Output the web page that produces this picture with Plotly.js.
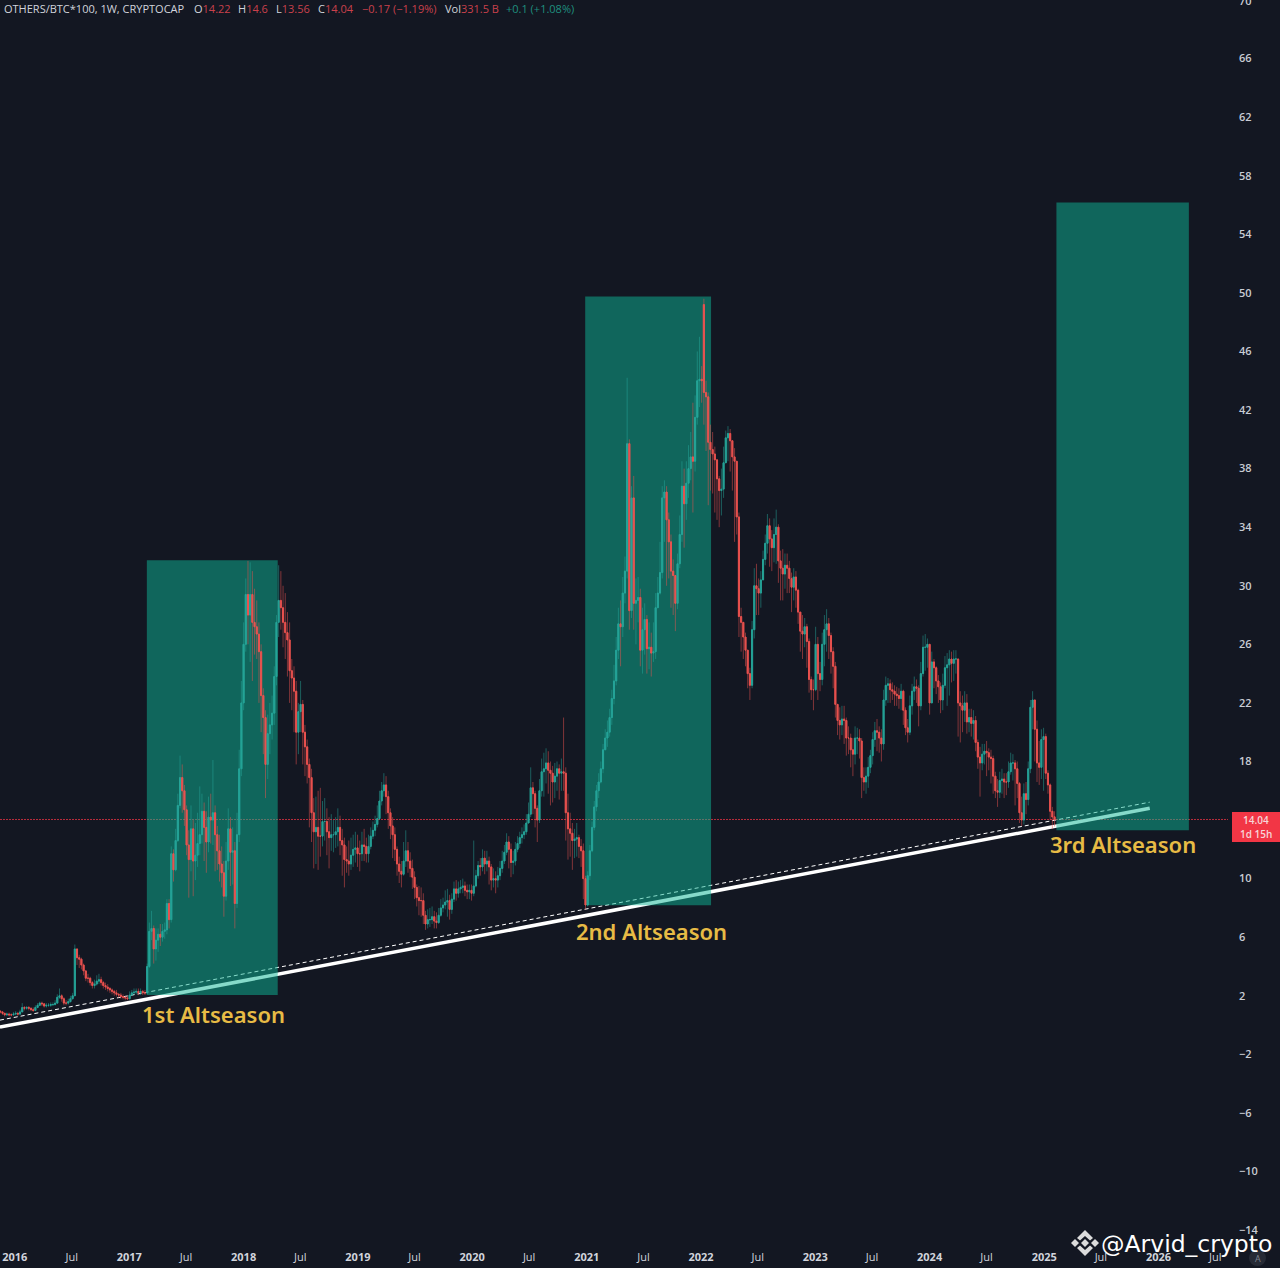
<!DOCTYPE html>
<html><head><meta charset="utf-8">
<script src="https://cdn.plot.ly/plotly-3.0.1.min.js"></script>
<style>html,body{margin:0;padding:0;background:#131722}#c{width:1280px;height:1268px}</style>
</head><body><div id="c"></div>
<script>
const firstWeek = '2015-11-16';
const closes = [
.9,.8,.7,.75,.7,.7,.75,.8,.75,.9,
1.2,1.15,1.2,1.15,1.05,1,1.2,1.35,1.5,1.45,
1.3,1.35,1.35,1.4,1.4,1.5,1.9,2,1.8,1.5,
1.5,1.6,1.8,2,5.2,4.6,4.5,4.1,3.7,3.2,
3.2,2.9,2.7,2.8,3,3.1,2.9,2.7,2.6,2.5,
2.4,2.3,2.2,2.1,2.05,1.95,1.9,1.85,1.8,2.05,
2.2,2.25,2.3,2.2,2.3,2.2,2.2,4,6.4,6.6,
5.2,5.8,6.2,6,6.4,6.5,8.3,7.2,11.7,10.6,
12.6,15,16.9,16,14.7,12.3,11.3,13.4,11.2,11.6,
12.4,13,14.6,13.5,12.5,14.2,14,14.5,13,11.9,
11,10.4,8.8,11.2,13.4,11.8,11.9,8.3,13,17.5,
22,26,29.4,28,29.4,27.5,27.2,26.7,25.5,22.5,
21,17.8,19.9,20.5,21.3,23.8,27.5,29,28.5,27.5,
26.8,26.3,24.2,23.7,22.8,20,21.4,21.9,20,19,
17.8,16.9,14.5,13.2,13.5,12.9,12.9,13.9,13.9,13.2,
12.8,13,13,13.2,13.5,12.6,12.3,11.3,11.2,11,
11.6,12,12.1,11.7,11.7,12.3,12.2,11.7,12.2,12.9,
13.3,13.7,14.1,15.3,16,16.4,15.6,14.5,13.6,13,
12,11,10.5,10.3,11.2,11.9,11.2,10.7,10.1,9.4,
8.7,8.5,8.5,7.5,6.9,7.2,7.2,7.4,7.1,7,
7.5,8,8.2,8.4,8.5,7.9,8.6,9.3,9,9.3,
9.4,9.5,9.2,9.1,9.2,9,9.5,10.2,10.9,10.8,
11.4,11,11.2,10.8,9.9,10,9.9,10.2,10.7,11.2,
11.8,12.5,12,11.1,11.2,12,12.4,12.8,13,13.2,
13.8,14.4,16.2,15.8,14.8,14,16,17.3,17.5,17.9,
17.4,17.2,16.6,17,17.5,17.2,17.3,17.2,14.5,13.4,
13.1,12.6,12.7,12.8,12.2,11.9,10,8.2,10.2,11.9,
13.5,14.9,16,16.6,17.5,18.8,19.6,20,21,22.3,
23.5,25.6,27.4,27.2,29.5,31,39.7,28.3,36,28.8,
29,29.2,25.6,27,27.7,25.7,25.8,25.4,25.5,28.5,
29.5,30.9,36,36.4,34.5,33,31,30.7,28.8,31.5,
33.5,36.8,35.6,37,38,38.8,38.5,41.5,44,44.1,
44,43.2,42.9,39.8,39.3,39,38.6,37.3,36.5,36.6,
38.4,40.1,40.4,39.9,38.8,38.5,34.7,27.9,27.5,26.5,
25.6,24,23.2,27,30,29.8,29.5,30.4,31.8,32.9,
34.1,33.2,32.6,33.5,34,31.7,31.2,30.8,31.4,31.2,
30.5,29.9,30.6,29.7,28.2,26.9,26.7,27.2,26.2,23.6,
22.9,22.9,26,24,23.6,26,27,27.4,26.6,25.5,
24.5,21.9,20.8,20.5,20.9,20.8,19.6,19.6,18.8,18.5,
19.6,19.6,19.4,16.9,16.6,17,17.6,18.4,19.5,20.1,
20,19.6,19.2,22.2,23.2,23.3,22.9,22.8,22.6,22.5,
22.3,22.8,21.5,20.3,20,21.8,22.8,23.1,23,21.8,
24,25.8,25.8,26,22,24.8,24.4,23.5,23.1,22.2,
23.2,24.4,24.6,25,24.7,25,25,22,21.8,21.5,
22,20.7,21,20.6,20.8,19.3,18.3,17.9,18.5,18.7,
18.6,18.3,18.2,17,16,15.9,16.7,16.8,16.6,16.6,
17.3,17.9,17.9,17.5,16.5,14.5,14,15.8,15.4,17.5,
21.7,22.2,20.2,17.9,17.6,19.5,19.7,17.2,16.4,14.6,
14.21,14.04];
const opens = [
.95,.9,.8,.7,.75,.7,.7,.75,.8,.75,
.9,1.2,1.15,1.2,1.15,1.05,1,1.2,1.35,1.5,
1.45,1.3,1.35,1.35,1.4,1.4,1.5,1.9,2,1.8,
1.5,1.5,1.6,1.8,2,5.2,4.6,4.5,4.1,3.7,
3.2,3.2,2.9,2.7,2.8,3,3.1,2.9,2.7,2.6,
2.5,2.4,2.3,2.2,2.1,2.05,1.95,1.9,1.85,1.8,
2.05,2.2,2.25,2.3,2.2,2.3,2.2,2.2,4,6.4,
6.6,5.2,5.8,6.2,6,6.4,6.5,8.3,7.2,11.7,
10.6,12.6,15,16.9,16,14.7,12.3,11.3,13.4,11.2,
11.6,12.4,13,14.6,13.5,12.5,14.2,14,14.5,13,
11.9,11,10.4,8.8,11.2,13.4,11.8,11.9,8.3,13,
17.5,22,26,29.4,28,29.4,27.5,27.2,26.7,25.5,
22.5,21,17.8,19.9,20.5,21.3,23.8,27.5,29,28.5,
27.5,26.8,26.3,24.2,23.7,22.8,20,21.4,21.9,20,
19,17.8,16.9,14.5,13.2,13.5,12.9,12.9,13.9,13.9,
13.2,12.8,13,13,13.2,13.5,12.6,12.3,11.3,11.2,
11,11.6,12,12.1,11.7,11.7,12.3,12.2,11.7,12.2,
12.9,13.3,13.7,14.1,15.3,16,16.4,15.6,14.5,13.6,
13,12,11,10.5,10.3,11.2,11.9,11.2,10.7,10.1,
9.4,8.7,8.5,8.5,7.5,6.9,7.2,7.2,7.4,7.1,
7,7.5,8,8.2,8.4,8.5,7.9,8.6,9.3,9,
9.3,9.4,9.5,9.2,9.1,9.2,9,9.5,10.2,10.9,
10.8,11.4,11,11.2,10.8,9.9,10,9.9,10.2,10.7,
11.2,11.8,12.5,12,11.1,11.2,12,12.4,12.8,13,
13.2,13.8,14.4,16.2,15.8,14.8,14,16,17.3,17.5,
17.9,17.4,17.2,16.6,17,17.5,17.2,17.3,17.2,14.5,
13.4,13.1,12.6,12.7,12.8,12.2,11.9,10,8.2,10.2,
11.9,13.5,14.9,16,16.6,17.5,18.8,19.6,20,21,
22.3,23.5,25.6,27.4,27.2,29.5,31,39.7,28.3,36,
28.8,29,29.2,25.6,27,27.7,25.7,25.8,25.4,25.5,
28.5,29.5,30.9,36,36.4,34.5,33,31,30.7,28.8,
31.5,33.5,36.8,35.6,37,38,38.8,38.5,41.5,44,
44.1,49.2,43.2,42.9,39.8,39.3,39,38.6,37.3,36.5,
36.6,38.4,40.1,40.4,39.9,38.8,38.5,34.7,27.9,27.5,
26.5,25.6,24,23.2,27,30,29.8,29.5,30.4,31.8,
32.9,34.1,33.2,32.6,33.5,34,31.7,31.2,30.8,31.4,
31.2,30.5,29.9,30.6,29.7,28.2,26.9,26.7,27.2,26.2,
23.6,22.9,22.9,26,24,23.6,26,27,27.4,26.6,
25.5,24.5,21.9,20.8,20.5,20.9,20.8,19.6,19.6,18.8,
18.5,19.6,19.6,19.4,16.9,16.6,17,17.6,18.4,19.5,
20.1,20,19.6,19.2,22.2,23.2,23.3,22.9,22.8,22.6,
22.5,22.3,22.8,21.5,20.3,20,21.8,22.8,23.1,23,
21.8,24,25.8,25.8,26,22,24.8,24.4,23.5,23.1,
22.2,23.2,24.4,24.6,25,24.7,25,25,22,21.8,
21.5,22,20.7,21,20.6,20.8,19.3,18.3,17.9,18.5,
18.7,18.6,18.3,18.2,17,16,15.9,16.7,16.8,16.6,
16.6,17.3,17.9,17.9,17.5,16.5,14.5,14,15.8,15.4,
17.5,21.7,22.2,20.2,17.9,17.6,19.5,19.7,17.2,16.4,
14.6,14.22];
const highs = [
1,.9,.85,.85,.85,.8,.9,.95,.9,1.05,
1.5,1.3,1.3,1.3,1.2,1.2,1.35,1.5,1.6,1.6,
1.5,1.5,1.5,1.55,1.55,1.7,2.1,2.5,2.1,1.9,
1.7,1.8,2,2.2,5.5,5.2,4.8,4.6,4.2,3.7,
3.5,3.3,3,3.1,3.4,3.5,3.3,3,2.9,2.8,
2.6,2.5,2.4,2.4,2.2,2.2,2.1,2,2,2.3,
2.4,2.5,2.5,2.5,2.5,2.4,2.4,4.2,7,7.8,
6.8,6.6,6.6,6.9,6.9,7,8.6,8.6,12.2,12,
13.4,15.8,18.4,17.8,16.4,15,13.3,15,14,13.8,
14.5,16.3,15.8,15.2,14.6,15.6,15.8,18.1,15,13.6,
13,12.2,11.2,12.5,14.8,14.2,13.5,12.5,14.5,18.8,
23.5,27.5,30.5,31.7,31.6,31,29.8,29,27.5,26,
23,21.5,21.2,22,22.5,24.5,28,31.4,31,30,
29.5,28.2,27.5,25,24.5,23.5,22,23.5,22.2,20.5,
19.5,18.2,17.5,15.5,15.6,16,16.2,15.3,15.5,14.8,
14.2,14.4,14,14.2,14.8,14.3,13.4,12.8,12.2,12.6,
12.8,13,13.2,13,12.6,13.2,13.4,12.8,13,13.5,
13.9,14.3,15,16,16.6,17.2,17,16,14.8,14.2,
13.5,12.2,11.5,11.2,12.5,13.3,12.5,11.8,11.3,10.5,
9.6,9.5,9.4,9,7.8,7.9,8,8.1,7.8,7.7,
8,8.6,8.7,9.2,9.3,8.9,9,9.8,9.9,9.8,
9.9,10,9.8,9.6,9.6,9.6,12.6,10.6,11.2,11.4,
12,11.9,11.9,11.5,11,10.7,10.5,10.8,11.2,11.9,
12.3,13.1,12.9,12.4,11.9,12.5,12.9,13.2,13.5,13.7,
14.4,15.2,17.6,16.6,16,15,16.8,18.2,18.6,18.9,
18.7,18,17.7,17.9,18,17.8,18.2,21,17.6,15.8,
14.5,13.8,13.4,13.8,13,12.7,12.4,10.2,10.5,12.3,
13.9,15.3,16.4,17.2,18,19.2,20.2,20.8,21.6,22.9,
24.6,26.5,28.5,29,30.6,32,44.2,40,36.8,37.5,
30.5,30.6,29.8,28.5,28.8,28,27.5,26.8,27.5,29.5,
30.6,33,36.8,37.2,36.8,35,33.5,31.8,30,32.2,
34.8,38.5,38,38.5,39.6,40.5,42.5,43,46,47,
45,49.6,44,43.2,41,40.5,39.5,38.5,37.5,38,
39.5,40.6,40.9,40.7,39.9,39.4,38,35,28.5,27.5,
26.8,25.2,24.4,27.6,31.2,31.5,30.5,31,32.4,33.5,
34.9,34.6,33.8,34.6,35.2,34.2,32.4,32.5,32.2,32.2,
31.7,30.9,31.2,31,29.8,28.2,28,27.8,27.4,26.4,
23.8,23.6,27.2,26.5,24.8,26.8,28,28.4,27.8,26.8,
25.8,24.8,21.9,21.7,21.8,21.8,21,20.4,19.9,19.6,
20.4,20.3,20.2,19.6,17.6,17.6,18.3,18.8,20,20.7,
20.9,20.4,20.2,22.9,23.8,23.7,23.6,23.4,23.2,23.1,
23,23.3,22.9,21.7,20.9,22.5,23.3,23.8,23.6,23.2,
24.8,26.6,26.7,26.4,25.8,25.5,25,24.5,23.9,23.4,
24,25.2,25.4,25.6,25.5,25.6,25.6,25,22.8,22.5,
22.8,22.6,21.6,21.6,21.5,21.1,19.5,19,19.2,19.2,
19.4,18.9,18.8,18.4,17.3,16.8,17.3,17.5,17.2,17.2,
18,18.6,18.5,18.1,18,16.6,15.6,16.5,16.6,18,
22.2,22.8,22,20.8,19.4,20.2,20.3,19.9,17.4,16.5,
14.9,14.6];
const lows = [
.8,.7,.6,.65,.6,.6,.65,.7,.65,.7,
.9,1,1.05,1,.95,.9,.95,1.15,1.3,1.3,
1.2,1.2,1.25,1.25,1.3,1.35,1.45,1.8,1.6,1.35,
1.35,1.4,1.55,1.75,2,4.1,3.9,3.8,3.4,3,
2.9,2.7,2.5,2.5,2.7,2.8,2.7,2.5,2.4,2.3,
2.2,2.1,2,1.95,1.85,1.8,1.75,1.7,1.7,1.75,
2,2.05,2.1,2.05,2.05,2.05,2.05,2.1,3.9,5.8,
4.2,4.4,5,5.4,5.7,5.9,6.2,6.6,7,9.8,
10.5,12.5,14.8,14.5,13.6,11.6,8.7,10.5,8.8,9.9,
10.8,11.6,12.4,11.2,10.4,11.8,12.4,12.3,10.5,10.6,
9.8,9.4,7.4,8.5,10.6,9.5,9.6,6.6,8,12.5,
17,21.5,25.5,26,24.8,23.5,25.3,25,22,20,
18.5,15.5,16.8,18.5,19.5,20.5,23.2,26.5,27,25.8,
25,23.8,22,21.5,20,17.8,18.5,20,17.8,17,
16.5,13.5,12.5,10.7,11,10.6,11.5,12.2,12.6,11.6,
10.7,11.9,11.8,12.1,12.2,11.6,10.2,9.4,10.4,10.2,
10.6,10.8,11.1,10.8,10.5,11.2,11.2,11.1,11.1,12,
12.7,12.9,13.5,14,15,15.6,14.4,13.4,12.7,11.4,
11.2,10.2,9.7,9.4,10.2,10.8,10.4,10.1,9.3,8.6,
8.1,7.5,7.4,6.9,6.5,6.6,6.7,6.9,6.6,6.6,
6.9,7.4,7.7,7.9,7.4,7.2,7.6,8.4,8.5,8.7,
9,9,8.8,8.6,8.6,8.5,8.8,9.4,10,10.2,
10.5,10.3,10.5,9.6,9.2,9.4,9,9.4,9.9,10.4,
11,11.6,10.7,10.1,10.3,10.9,11.8,12.1,12.4,12.7,
13,13.8,14.2,14.4,13.5,12.5,13.8,15.6,15.6,16.5,
15.8,15,15.2,15.5,16,15.4,16,16,12.6,11.3,
11.5,10.6,11.4,11.5,11.4,10.8,8.6,7.9,8.1,9.9,
11.8,13.3,14.6,15.5,16.5,17.2,18.8,19,19.7,20.5,
21.9,23.2,25,24.5,26.5,28.8,30.5,27,27.8,27,
26,27.5,24.5,24,25.3,24,24.3,23.8,24.8,25,
28.5,29.4,30.5,33,30,30.5,28.5,28,26.9,28.4,
31.2,33,32.6,34.5,36,37.2,35,37.8,41,42.2,
42.5,41,39.2,35.5,36.5,36.3,35,34.5,34,34.8,
36,38.5,38.5,37.8,36.5,33,33.5,26.5,25.5,25,
24.5,23,22.2,23,26.4,28,28,28.5,30.5,31.4,
32.2,31.3,31,31.6,31.5,30.2,29,29,29.8,29.5,
29.5,28.2,29,28.5,27.4,25.5,25,25.8,24.4,22.7,
22.2,21.5,22.8,22.2,22.8,23.2,24.5,25.5,25,24,
23,21,19.8,19.5,19.8,19.2,18.4,18.5,17.6,17,
17.8,18.5,18.2,15.5,16,15.8,16.2,17.2,17.8,19,
18.7,18.6,18,18.8,21.8,22,22,22.2,21.8,21.8,
21.6,21.5,20.5,19.8,19.3,19.8,21.2,22.2,22,20.4,
21.5,23.8,24.2,24.4,21.2,22,23,22.6,22,21.3,
21.5,23,21.8,22.5,23.4,23.5,24,19.7,19.3,20,
20.7,19.9,20,19.7,19.5,18.7,17.5,15.6,17.4,17.8,
17,17.4,16.5,15.8,15.5,14.9,15.5,15.8,15.5,15.7,
16.2,17.1,16.7,15,15.5,13.8,13.6,13.7,14.4,15,
17.2,20.2,18,16.6,16.4,16.8,16,16.8,15.8,14,
13.4,13.56];

const lastPrice = 14.04;
const seasonStarts = ['2017-02-26','2020-12-27','2025-02-09'];
const seasonEnds = ['2018-04-20','2022-02-02','2026-04-08'];
const seasonTops = [31.74,49.76,56.18];
const seasonBottoms = [2.05,8.19,13.31];
const trendDates = ['2015-11-15','2025-12-04'];
const trendSolid = [-0.14,14.81];
const trendDashed = [0.34,15.22];
const priceTicks = [-14,-10,-6,-2,2,6,10,18,22,26,30,34,38,42,46,50,54,58,62,66];
const priceLabels = priceTicks.map(v => v < 0 ? '\u2212' + (-v) : String(v));
const timeTicks = ['2016-01-01','2016-07-01','2017-01-01','2017-07-01','2018-01-01','2018-07-01','2019-01-01','2019-07-01','2020-01-01','2020-07-01','2021-01-01','2021-07-01','2022-01-01','2022-07-01','2023-01-01','2023-07-01','2024-01-01','2024-07-01','2025-01-01','2025-07-01','2026-01-01','2026-07-01'];
const timeLabels = ['2016','Jul','2017','Jul','2018','Jul','2019','Jul','2020','Jul','2021','Jul','2022','Jul','2023','Jul','2024','Jul','2025','Jul','2026','Jul'];

const W = 1280, H = 1268, ML = 0, MR = 52, MT = 0, MB = 30;
const px = x => (x - ML) / (W - ML - MR);
const py = y => 1 - (y - MT) / (H - MT - MB);
const weeks = closes.map((_, i) => {
  const d = new Date(firstWeek + 'T00:00:00Z');
  d.setUTCDate(d.getUTCDate() + 7 * i);
  return d.toISOString().slice(0, 10);
});

const candleStyle = w => ({
  type: 'candlestick', x: weeks, open: opens, close: closes,
  whiskerwidth: 0, hoverinfo: 'skip', showlegend: false,
  increasing: {line: {color: '#26a69a', width: w}, fillcolor: '#26a69a'},
  decreasing: {line: {color: '#ef5350', width: w}, fillcolor: '#ef5350'}
});
// faint wicks underneath, solid bodies on top
const wickTrace = Object.assign(candleStyle(1), {high: highs, low: lows, opacity: 0.5});
const bodyTrace = Object.assign(candleStyle(1), {
  high: opens.map((o, i) => Math.max(o, closes[i])),
  low: opens.map((o, i) => Math.min(o, closes[i])),
  opacity: 0.95
});

const shapes = [
  {type:'line', layer:'below', xref:'paper', yref:'y', x0:0, x1:1, y0:lastPrice, y1:lastPrice, line:{color:'rgba(242,54,69,0.75)', width:1, dash:'2px,1px'}},
  {type:'line', layer:'below', xref:'x', yref:'y', x0:trendDates[0], x1:trendDates[1], y0:trendSolid[0], y1:trendSolid[1], line:{color:'#ffffff', width:3.5}},
  {type:'line', layer:'below', xref:'x', yref:'y', x0:trendDates[0], x1:trendDates[1], y0:trendDashed[0], y1:trendDashed[1], line:{color:'#ffffff', width:1, dash:'4px,3px'}}
];
seasonStarts.forEach((s, i) => shapes.push({
  type:'rect', layer:'below', xref:'x', yref:'y', x0:s, x1:seasonEnds[i], y0:seasonBottoms[i], y1:seasonTops[i],
  fillcolor:'rgba(13,181,150,0.5)', line:{width:0}
}));
// price tag, time-scale badge, watermark logo
const pxRect = (x0, y0, x1, y1, color) => ({type:'rect', layer:'above', xref:'paper', yref:'paper', x0:px(x0), x1:px(x1), y0:py(y0), y1:py(y1), fillcolor:color, line:{width:0}});
shapes.push(pxRect(1232, 812, 1280, 842, '#f23645'));
shapes.push({type:'circle', layer:'above', xref:'paper', yref:'paper', x0:px(1249), x1:px(1266), y0:py(1266), y1:py(1250), fillcolor:'#262a35', line:{width:0}});
const poly = pts => 'M' + pts.map(p => px(p[0]) + ',' + py(p[1])).join('L') + 'Z';
const logo = [
  [[1085,1239],[1089,1243],[1085,1247],[1081,1243]],
  [[1075,1239],[1079,1243],[1075,1247],[1071,1243]],
  [[1095,1239],[1099,1243],[1095,1247],[1091,1243]],
  [[1085,1230],[1093,1238],[1090,1240.5],[1085,1236],[1080,1240.5],[1077,1238]],
  [[1085,1256],[1093,1248],[1090,1245.5],[1085,1250],[1080,1245.5],[1077,1248]]
];
logo.forEach(p => shapes.push({type:'path', layer:'above', xref:'paper', yref:'paper', path:poly(p), fillcolor:'#dcdcdc', line:{width:0}}));

const hdrFont = {family:'"Open Sans", sans-serif', size:11, color:'#d1d4dc'};
const R = '#c9414c', G = '#1f8f7f';
const col = (c, t) => '<span style="color:' + c + '">' + t + '</span>';
const note = (x, y, text, font, anchor) => ({xref:'paper', yref:'paper', x:px(x), y:py(y), text, font, showarrow:false, xanchor:anchor || 'center', yanchor:'middle', align:'center', borderpad:0, bgcolor:'rgba(0,0,0,0)'});
const gold = {family:'"Noto Sans", sans-serif', size:22, color:'#e7bb45', weight:600};
const tagFont = {family:'"Open Sans", sans-serif', size:10, color:'#f7d5d8', weight:600};
const tickFont = {family:'"Open Sans", sans-serif', size: 11, color: '#c9ccd4', weight: 600};
const annotations = [
  note(3, 9, 'OTHERS/BTC*100, 1W, CRYPTOCAP', hdrFont, 'left'),
  note(193, 9, 'O' + col(R, '14.22'), hdrFont, 'left'),
  note(237, 9, 'H' + col(R, '14.6'), hdrFont, 'left'),
  note(275, 9, 'L' + col(R, '13.56'), hdrFont, 'left'),
  note(317, 9, 'C' + col(R, '14.04'), hdrFont, 'left'),
  note(361, 9, col(R, '\u22120.17 (\u22121.19%)'), hdrFont, 'left'),
  note(444, 9, 'Vol' + col(R, '331.5 B'), hdrFont, 'left'),
  note(505, 9, col(G, '+0.1 (+1.08%)'), hdrFont, 'left'),
  note(213.5, 1014, '1st Altseason', gold),
  note(651.5, 931, '2nd Altseason', gold),
  note(1122.5, 844, '3rd Altseason', gold),
  note(1256, 820, '14.04', tagFont),
  note(1256, 834, '1d 15h', tagFont),
  note(1257.5, 1258, 'A', {family:'"Open Sans", sans-serif', size:9, color:'#7f8490'}),
  note(1186.5, 1244, '@Arvid_crypto', {family:'"DejaVu Sans", sans-serif', size:23.5, color:'#ffffff'}),
  note(1245.5, 0, '70', tickFont)
];

const layout = {
  width: W, height: H, autosize: false,
  margin: {l: ML, r: MR, t: MT, b: MB, pad: 0},
  paper_bgcolor: '#131722', plot_bgcolor: '#131722',
  showlegend: false, hovermode: false, dragmode: false,
  xaxis: {
    type: 'date', range: ['2015-11-15', '2026-08-11'], rangeslider: {visible: false},
    tickmode: 'array', tickvals: timeTicks,
    ticktext: timeLabels.map(t => t === 'Jul' ? t : '<b>' + t + '</b>'),
    tickfont: {family:'"Open Sans", sans-serif', size: 11, color: '#d1d4dc'},
    ticks: '', showgrid: false, zeroline: false, showline: false, ticklabelstandoff: 11, tickangle: 0
  },
  yaxis: {
    side: 'right', range: [-14.54, 70.0],
    tickmode: 'array', tickvals: priceTicks, ticktext: priceLabels,
    tickfont: tickFont,
    ticks: '', showgrid: false, zeroline: false, showline: false, ticklabelstandoff: 10
  },
  shapes, annotations
};
Plotly.newPlot('c', [wickTrace, bodyTrace], layout, {staticPlot: true, displayModeBar: false});
</script></body></html>
